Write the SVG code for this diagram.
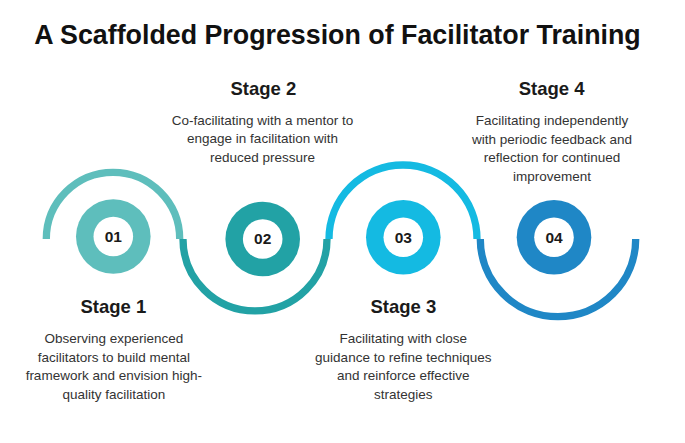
<svg xmlns="http://www.w3.org/2000/svg" width="685" height="443" viewBox="0 0 685 443">
<style>
.title{font-family:"Liberation Sans",Arial,sans-serif;font-weight:bold;font-size:26.8px;fill:#111;text-anchor:middle}
.head{font-family:"Liberation Sans",Arial,sans-serif;font-weight:bold;font-size:18.5px;fill:#1a1a1a;text-anchor:middle}
.body{font-family:"Liberation Sans",Arial,sans-serif;font-size:13.5px;fill:#333;text-anchor:middle}
.num{font-family:"Liberation Sans",Arial,sans-serif;font-weight:bold;font-size:15.5px;fill:#1a1a1a;text-anchor:middle}
.arc{fill:none;stroke-width:7.3;stroke-linecap:butt}
</style>
<rect width="685" height="443" fill="#fff"/>
<text class="title" x="337.5" y="43.5">A Scaffolded Progression of Facilitator Training</text>
<g id="connectors">
<path class="arc" stroke="#5EBEBC" d="M 46.3 239 A 66.7 66.7 0 0 1 179.7 239"/>
<path class="arc" stroke="#22A2A5" d="M 183 239 A 72 72 0 0 0 327 239"/>
<path class="arc" stroke="#14BAE2" d="M 329 239 A 74 74 0 0 1 477 239"/>
<path class="arc" stroke="#1F87C6" d="M 480.3 239 A 77.7 77.7 0 0 0 635.7 239"/>
</g>
<g id="stage1">
<circle cx="113.3" cy="236.5" r="37.3" fill="#5EBEBC"/>
<circle cx="113.3" cy="236.5" r="19.8" fill="#fff"/>
<text class="num" x="113.3" y="241.7">01</text>
<text class="head" x="113.3" y="313">Stage 1</text>
<text class="body" x="113.8" y="343.3">Observing experienced</text>
<text class="body" x="113.8" y="361.7">facilitators to build mental</text>
<text class="body" x="113.8" y="380.2">framework and envision high-</text>
<text class="body" x="113.8" y="398.8">quality facilitation</text>
</g>
<g id="stage2">
<circle cx="262.7" cy="239" r="37.3" fill="#22A2A5"/>
<circle cx="262.7" cy="239" r="19.8" fill="#fff"/>
<text class="num" x="262.7" y="244.3">02</text>
<text class="head" x="263.3" y="95">Stage 2</text>
<text class="body" x="262.5" y="124.6">Co-facilitating with a mentor to</text>
<text class="body" x="262.5" y="143.3">engage in facilitation with</text>
<text class="body" x="262.5" y="162">reduced pressure</text>
</g>
<g id="stage3">
<circle cx="403.3" cy="237.3" r="37.3" fill="#14BAE2"/>
<circle cx="403.3" cy="237.3" r="19.8" fill="#fff"/>
<text class="num" x="403.3" y="242.5">03</text>
<text class="head" x="403.3" y="313.3">Stage 3</text>
<text class="body" x="403.3" y="343.3">Facilitating with close</text>
<text class="body" x="403.3" y="361.7">guidance to refine techniques</text>
<text class="body" x="403.3" y="380.2">and reinforce effective</text>
<text class="body" x="403.3" y="398.8">strategies</text>
</g>
<g id="stage4">
<circle cx="554" cy="237.3" r="37.3" fill="#1F87C6"/>
<circle cx="554" cy="237.3" r="19.8" fill="#fff"/>
<text class="num" x="554" y="242.5">04</text>
<text class="head" x="551.7" y="95">Stage 4</text>
<text class="body" x="552" y="124.8">Facilitating independently</text>
<text class="body" x="552" y="143.5">with periodic feedback and</text>
<text class="body" x="552" y="162.2">reflection for continued</text>
<text class="body" x="552" y="180.8">improvement</text>
</g>
</svg>
